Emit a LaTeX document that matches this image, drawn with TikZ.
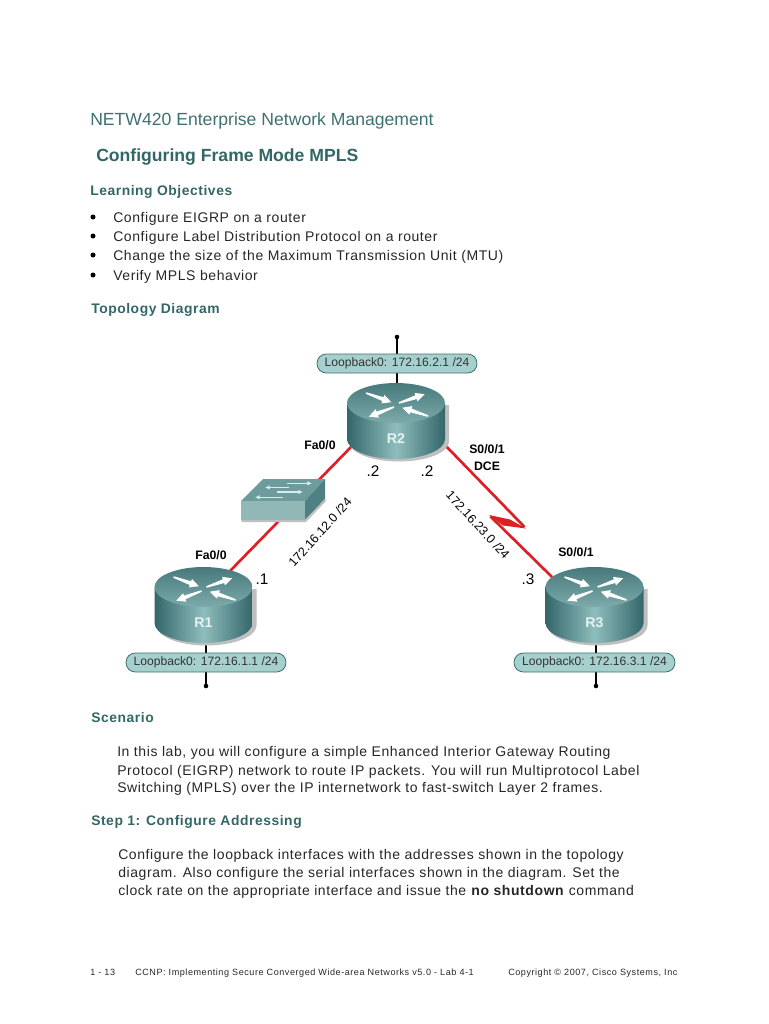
\documentclass[tikz,border=0pt]{standalone}
\usepackage{fontspec}
\setmainfont{Liberation Sans}
\usetikzlibrary{arrows.meta}
\definecolor{headteal}{HTML}{336666}
\definecolor{titleteal}{HTML}{3F7070}
\definecolor{pillfill}{HTML}{A6D0CE}
\definecolor{pilledge}{HTML}{3F6F70}
\definecolor{rimdark}{HTML}{34666A}
\definecolor{rimlight}{HTML}{8FBDBD}
\definecolor{topdark}{HTML}{47797C}
\definecolor{toplight}{HTML}{7DAAAA}
\definecolor{linkred}{HTML}{DD1F26}
\newcommand{\sz}[2]{\fontsize{#1}{#1}\selectfont\addfontfeature{LetterSpace=#2}}

\begin{document}
\begin{tikzpicture}[
  x=0.75pt, y=-0.75pt,
  pagetext/.style={anchor=base west, inner sep=0pt, text=black!85},
  title/.style={pagetext, text=titleteal, font=\sz{13.2}{0}},
  heading/.style={pagetext, text=headteal, font=\sz{13.2}{0}\bfseries},
  subhead/.style={pagetext, text=headteal, font=\sz{10.4}{4}\bfseries},
  body/.style={pagetext, font=\sz{10.5}{4.2}},
  footer/.style={pagetext, font=\sz{6.8}{6}},
  pill/.style={draw=pilledge, fill=pillfill, rounded corners=7pt, line width=0.6pt},
  pilltext/.style={inner sep=0pt, text=black!80, font=\sz{9.1}{0}},
  iflabel/.style={inner sep=0pt, font=\sz{9.2}{0}\bfseries},
  netlabel/.style={inner sep=0pt, font=\sz{9.4}{0}},
  hostlabel/.style={inner sep=0pt, font=\sz{11.5}{0}},
  stub/.style={line width=1.5pt, black},
  link/.style={line width=2pt, linkred},
  swarrow/.style={white!85!teal, line width=1.1pt, -{Latex[length=3.5pt,width=3.5pt]}},
  router/.pic={
    \fill[black!25] (-47,2) -- (-47,38.5) arc[start angle=180, end angle=0, x radius=50, y radius=20] -- (53,2) -- cycle;
    \shade[left color=rimdark, right color=rimdark, middle color=rimlight]
      (-49,0) -- (-49,36) arc[start angle=180, end angle=0, x radius=49, y radius=20] -- (49,0) -- cycle;
    \shade[top color=topdark, bottom color=toplight] (0,0) ellipse[x radius=49, y radius=20];
    \foreach \tx/\ty/\ang in {-30/-10/-20, 3/0/19, -2/4/201, 32/13/162}
      \fill[white, shift={(\tx,\ty)}, rotate=\ang]
        (0,-0.8) -- (18,-2) -- (18,-4.5) -- (27,0) -- (18,4.5) -- (18,2) -- (0,0.8) -- cycle;
    \node[inner sep=0pt, text=white!90!teal, font=\sz{10.6}{0}\bfseries] at (0,36) {#1};
  },
]
  \useasboundingbox (0,0) rectangle (768,1024);

  % page text
  \node[title]   (doc)    at (90,125)  {NETW420 Enterprise Network Management};
  \node[heading] (lab)    at (96,161)  {Configuring Frame Mode MPLS};
  \node[subhead] (goals)  at (90,195)  {Learning Objectives};
  \foreach \n/\y/\txt in {a/222/Configure EIGRP on a router,
                          b/241/Configure Label Distribution Protocol on a router,
                          c/260/Change the size of the Maximum Transmission Unit (MTU),
                          d/280/Verify MPLS behavior} {
    \fill[black] (93,\y-5) circle (2.5);
    \node[body] (goal\n) at (113,\y) {\txt};
  }
  \node[subhead] (topo)   at (91,313)  {Topology Diagram};
  \node[subhead] (scen)   at (91,722)  {Scenario};
  \node[body]    (scena)  at (117,756) {In this lab, you will configure a simple Enhanced Interior Gateway Routing};
  \node[body]    (scenb)  at (117,775) {Protocol (EIGRP) network to route IP packets.  You will run Multiprotocol Label};
  \node[body]    (scenc)  at (117,792) {Switching (MPLS) over the IP internetwork to fast-switch Layer 2 frames.};
  \node[subhead] (stepa)  at (91,825)  {Step 1: Configure Addressing};
  \node[body]    (stepb)  at (118,859) {Configure the loopback interfaces with the addresses shown in the topology};
  \node[body]    (stepc)  at (118,877) {diagram. Also configure the serial interfaces shown in the diagram. Set the};
  \node[body]    (stepd)  at (118,895) {clock rate on the appropriate interface and issue the \textbf{no shutdown} command};
  \node[footer]  (pagen)  at (90,975)  {1 - 13};
  \node[footer]  (course) at (135,975) {CCNP: Implementing Secure Converged Wide-area Networks v5.0 - Lab 4-1};
  \node[footer]  (copy)   at (508,975) {Copyright © 2007, Cisco Systems, Inc};

  \coordinate (R1north) at (230,571);
  \coordinate (R2west)  at (352,446);
  \coordinate (R2east)  at (443,443);
  \coordinate (R3north) at (552,577);
  \coordinate (Zhigh)   at (526,528.5);
  \coordinate (Zlow)    at (489,515);
  \coordinate (R1stub)  at (206,686);
  \coordinate (R2stub)  at (397,337);
  \coordinate (R3stub)  at (596,686);

  % links
  \draw[link] (R1north) -- (R2west);
  \draw[link, shorten >=1.5pt] (R2east) -- (Zhigh);
  \draw[link, shorten <=1.5pt] (Zlow) -- (R3north);
  \fill[linkred] (Zhigh) -- (510,519.5) -- (Zlow) -- (503,525.5) -- cycle;

  % loopback stubs
  \foreach \pt/\rt in {R1stub/206,R3stub/596} {
    \draw[stub] (\rt,640) -- (\pt);
    \fill[black] (\pt) circle (2.3);
  }
  \draw[stub] (R2stub) -- (397,390);
  \fill[black] (R2stub) circle (2.3);

  % routers
  \pic at (203.5,587) {router={R1}};
  \pic at (396,403) {router={R2}};
  \pic at (594.5,587) {router={R3}};

  % switch
  \fill[toplight!80!rimdark] (241,501) -- (263,479) -- (325,479) -- (305,501) -- cycle;
  \fill[toplight!85!white] (241,501) rectangle (305,520);
  \fill[topdark!85!toplight] (305,501) -- (325,479) -- (325,499) -- (305,520) -- cycle;
  \fill[black!25] (241,520) -- (305,520) -- (325,499) -- (326,501) -- (306,522) -- (242,522) -- cycle;
  \draw[swarrow] (287,483.3) -- (312,483.3);
  \draw[swarrow] (289,487.5) -- (265,487.5);
  \draw[swarrow] (277,492) -- (303,492);
  \draw[swarrow] (283,497.3) -- (255,497.3);

  % loopback labels
  \foreach \n/\xa/\xb/\ya/\txt in {R1/126/286/653/172.16.1.1, R2/317/477/354/172.16.2.1, R3/514/675/653/172.16.3.1} {
    \draw[pill] (\xa,\ya) rectangle (\xb,\ya+19);
    \node[pilltext] (loop\n) at ({(\xa+\xb)/2},\ya+9.5) {Loopback0: \txt{} /24};
  }

  % interface labels
  \node[iflabel] (faA) at (320,445) {Fa0/0};
  \node[iflabel] (faB) at (211,555) {Fa0/0};
  \node[iflabel] (seA) at (487,449) {S0/0/1};
  \node[iflabel] (dce) at (487,466) {DCE};
  \node[iflabel] (seB) at (576,552) {S0/0/1};
  \node[hostlabel] (hostA) at (373,471) {.2};
  \node[hostlabel] (hostB) at (427,471) {.2};
  \node[hostlabel] (hostC) at (262,579) {.1};
  \node[hostlabel] (hostD) at (528,579) {.3};
  \node[netlabel, rotate=48] (netA) at (320,532) {172.16.12.0 /24};
  \node[netlabel, rotate=-47.5] (netB) at (478,525) {172.16.23.0 /24};
\end{tikzpicture}
\end{document}
